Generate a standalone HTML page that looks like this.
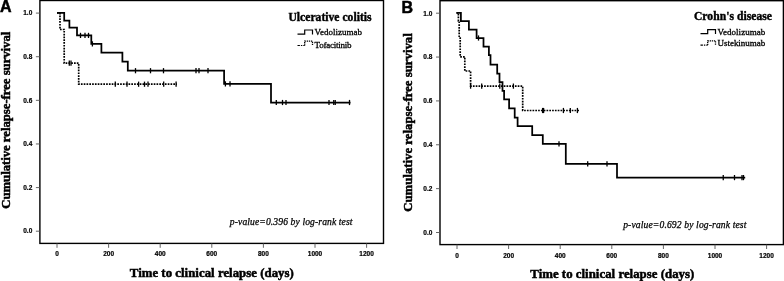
<!DOCTYPE html>
<html><head><meta charset="utf-8"><title>Figure</title>
<style>
html,body{margin:0;padding:0;background:#fff;}
svg{display:block;}
.tk{font-family:"Liberation Sans",sans-serif;font-weight:bold;font-size:6.5px;fill:#000;stroke:#000;stroke-width:0.2px;}
.ax{font-family:"Liberation Serif",serif;font-weight:bold;font-size:12.8px;fill:#000;stroke:#000;stroke-width:0.5px;}
.ti{font-family:"Liberation Serif",serif;font-weight:bold;font-size:11.6px;fill:#000;stroke:#000;stroke-width:0.4px;}
.lg{font-family:"Liberation Serif",serif;font-size:9px;fill:#000;stroke:#000;stroke-width:0.3px;}
.pv{font-family:"Liberation Serif",serif;font-style:italic;font-size:9.6px;fill:#000;stroke:#000;stroke-width:0.25px;}
.lt{font-family:"Liberation Sans",sans-serif;font-weight:bold;font-size:16px;fill:#000;stroke:#000;stroke-width:0.5px;}
</style></head>
<body>
<svg width="784" height="281" viewBox="0 0 784 281">
<rect width="784" height="281" fill="#fff"/>
<rect x="39.9" y="0.5" width="343.6" height="242.9" fill="none" stroke="#000" stroke-width="1.4"/>
<line x1="35.9" y1="231.20" x2="39.9" y2="231.20" stroke="#555" stroke-width="0.9"/>
<text x="32.3" y="233.45" text-anchor="end" class="tk">0.0</text>
<line x1="35.9" y1="187.58" x2="39.9" y2="187.58" stroke="#555" stroke-width="0.9"/>
<text x="32.3" y="189.83" text-anchor="end" class="tk">0.2</text>
<line x1="35.9" y1="143.96" x2="39.9" y2="143.96" stroke="#555" stroke-width="0.9"/>
<text x="32.3" y="146.21" text-anchor="end" class="tk">0.4</text>
<line x1="35.9" y1="100.34" x2="39.9" y2="100.34" stroke="#555" stroke-width="0.9"/>
<text x="32.3" y="102.59" text-anchor="end" class="tk">0.6</text>
<line x1="35.9" y1="56.72" x2="39.9" y2="56.72" stroke="#555" stroke-width="0.9"/>
<text x="32.3" y="58.97" text-anchor="end" class="tk">0.8</text>
<line x1="35.9" y1="13.10" x2="39.9" y2="13.10" stroke="#555" stroke-width="0.9"/>
<text x="32.3" y="15.35" text-anchor="end" class="tk">1.0</text>
<line x1="57.00" y1="243.4" x2="57.00" y2="247.8" stroke="#555" stroke-width="0.9"/>
<text x="57.00" y="255.9" text-anchor="middle" class="tk">0</text>
<line x1="108.60" y1="243.4" x2="108.60" y2="247.8" stroke="#555" stroke-width="0.9"/>
<text x="108.60" y="255.9" text-anchor="middle" class="tk">200</text>
<line x1="160.20" y1="243.4" x2="160.20" y2="247.8" stroke="#555" stroke-width="0.9"/>
<text x="160.20" y="255.9" text-anchor="middle" class="tk">400</text>
<line x1="211.80" y1="243.4" x2="211.80" y2="247.8" stroke="#555" stroke-width="0.9"/>
<text x="211.80" y="255.9" text-anchor="middle" class="tk">600</text>
<line x1="263.40" y1="243.4" x2="263.40" y2="247.8" stroke="#555" stroke-width="0.9"/>
<text x="263.40" y="255.9" text-anchor="middle" class="tk">800</text>
<line x1="315.00" y1="243.4" x2="315.00" y2="247.8" stroke="#555" stroke-width="0.9"/>
<text x="315.00" y="255.9" text-anchor="middle" class="tk">1000</text>
<line x1="366.60" y1="243.4" x2="366.60" y2="247.8" stroke="#555" stroke-width="0.9"/>
<text x="366.60" y="255.9" text-anchor="middle" class="tk">1200</text>
<text x="129.8" y="276.7" class="ax" textLength="164" lengthAdjust="spacing">Time to clinical relapse (days)</text>
<text transform="translate(10.3,208.8) rotate(-90)" class="ax" textLength="177.2" lengthAdjust="spacing">Cumulative relapse-free survival</text>
<text x="0" y="12.3" class="lt">A</text>
<text x="288.4" y="20.5" class="ti" textLength="83.2" lengthAdjust="spacing">Ulcerative colitis</text>
<text x="314.6" y="35.3" class="lg" textLength="47.5" lengthAdjust="spacing">Vedolizumab</text>
<path d="M297.5 34.1 H304.7 V30.0 H312.5 V34.5" fill="none" stroke="#000" stroke-width="1.2"/>
<text x="314.6" y="47.6" class="lg" textLength="36.8" lengthAdjust="spacing">Tofacitinib</text>
<path d="M297.5 45.5 H304.7" fill="none" stroke="#000" stroke-width="1.2" stroke-dasharray="2.4 1 1.4 1 1.4 1"/>
<path d="M304.7 45.5 V41.2 H312.5 V45.5" fill="none" stroke="#000" stroke-width="1.3" stroke-dasharray="1.3 0.8"/>
<text x="229.8" y="224.6" class="pv" textLength="122.7" lengthAdjust="spacing">p-value=0.396 by log-rank test</text>
<path d="M57.00 12.90 L64.20 12.90 L64.20 20.50 L69.40 20.50 L69.40 27.70 L77.00 27.70 L77.00 35.40 L91.30 35.40 L91.30 43.90 L101.40 43.90 L101.40 52.60 L122.40 52.60 L122.40 61.60 L127.80 61.60 L127.80 70.70 L224.10 70.70 L224.10 83.90 L271.00 83.90 L271.00 102.50 L350.50 102.50" fill="none" stroke="#000" stroke-width="1.75" stroke-linejoin="miter" />
<line x1="80.50" y1="32.80" x2="80.50" y2="38.00" stroke="#000" stroke-width="1.3"/>
<line x1="85.00" y1="32.80" x2="85.00" y2="38.00" stroke="#000" stroke-width="1.3"/>
<line x1="88.50" y1="32.80" x2="88.50" y2="38.00" stroke="#000" stroke-width="1.3"/>
<line x1="92.40" y1="41.30" x2="92.40" y2="46.50" stroke="#000" stroke-width="1.3"/>
<line x1="135.50" y1="68.10" x2="135.50" y2="73.30" stroke="#000" stroke-width="1.3"/>
<line x1="150.50" y1="68.10" x2="150.50" y2="73.30" stroke="#000" stroke-width="1.3"/>
<line x1="163.50" y1="68.10" x2="163.50" y2="73.30" stroke="#000" stroke-width="1.3"/>
<line x1="196.00" y1="68.10" x2="196.00" y2="73.30" stroke="#000" stroke-width="1.3"/>
<line x1="199.00" y1="68.10" x2="199.00" y2="73.30" stroke="#000" stroke-width="1.3"/>
<line x1="208.00" y1="68.10" x2="208.00" y2="73.30" stroke="#000" stroke-width="1.3"/>
<line x1="225.40" y1="81.30" x2="225.40" y2="86.50" stroke="#000" stroke-width="1.3"/>
<line x1="230.00" y1="81.30" x2="230.00" y2="86.50" stroke="#000" stroke-width="1.3"/>
<line x1="276.30" y1="99.90" x2="276.30" y2="105.10" stroke="#000" stroke-width="1.3"/>
<line x1="282.50" y1="99.90" x2="282.50" y2="105.10" stroke="#000" stroke-width="1.3"/>
<line x1="286.00" y1="99.90" x2="286.00" y2="105.10" stroke="#000" stroke-width="1.3"/>
<line x1="329.00" y1="99.90" x2="329.00" y2="105.10" stroke="#000" stroke-width="1.3"/>
<line x1="333.75" y1="99.90" x2="333.75" y2="105.10" stroke="#000" stroke-width="1.3"/>
<line x1="335.25" y1="99.90" x2="335.25" y2="105.10" stroke="#000" stroke-width="1.3"/>
<line x1="349.50" y1="99.90" x2="349.50" y2="105.10" stroke="#000" stroke-width="1.3"/>
<path d="M57.00 12.90 L60.00 12.90 L60.00 29.50 L64.20 29.50 L64.20 63.10 L78.70 63.10 L78.70 84.20 L177.00 84.20" fill="none" stroke="#000" stroke-width="1.7" stroke-linejoin="miter" stroke-dasharray="1.7 1.1"/>
<line x1="69.30" y1="60.50" x2="69.30" y2="65.70" stroke="#000" stroke-width="1.3"/>
<line x1="71.00" y1="60.50" x2="71.00" y2="65.70" stroke="#000" stroke-width="1.3"/>
<line x1="115.30" y1="81.60" x2="115.30" y2="86.80" stroke="#000" stroke-width="1.3"/>
<line x1="127.00" y1="81.60" x2="127.00" y2="86.80" stroke="#000" stroke-width="1.3"/>
<line x1="138.60" y1="81.60" x2="138.60" y2="86.80" stroke="#000" stroke-width="1.3"/>
<line x1="144.50" y1="81.60" x2="144.50" y2="86.80" stroke="#000" stroke-width="1.3"/>
<line x1="148.00" y1="81.60" x2="148.00" y2="86.80" stroke="#000" stroke-width="1.3"/>
<line x1="163.70" y1="81.60" x2="163.70" y2="86.80" stroke="#000" stroke-width="1.3"/>
<line x1="176.10" y1="81.60" x2="176.10" y2="86.80" stroke="#000" stroke-width="1.3"/>
<rect x="440.0" y="0.7" width="343.4" height="243.9" fill="none" stroke="#000" stroke-width="1.4"/>
<line x1="436.0" y1="232.50" x2="440.0" y2="232.50" stroke="#555" stroke-width="0.9"/>
<text x="432.4" y="234.90" text-anchor="end" class="tk">0.0</text>
<line x1="436.0" y1="188.64" x2="440.0" y2="188.64" stroke="#555" stroke-width="0.9"/>
<text x="432.4" y="191.04" text-anchor="end" class="tk">0.2</text>
<line x1="436.0" y1="144.78" x2="440.0" y2="144.78" stroke="#555" stroke-width="0.9"/>
<text x="432.4" y="147.18" text-anchor="end" class="tk">0.4</text>
<line x1="436.0" y1="100.92" x2="440.0" y2="100.92" stroke="#555" stroke-width="0.9"/>
<text x="432.4" y="103.32" text-anchor="end" class="tk">0.6</text>
<line x1="436.0" y1="57.06" x2="440.0" y2="57.06" stroke="#555" stroke-width="0.9"/>
<text x="432.4" y="59.46" text-anchor="end" class="tk">0.8</text>
<line x1="436.0" y1="13.20" x2="440.0" y2="13.20" stroke="#555" stroke-width="0.9"/>
<text x="432.4" y="15.60" text-anchor="end" class="tk">1.0</text>
<line x1="457.00" y1="244.6" x2="457.00" y2="249.0" stroke="#555" stroke-width="0.9"/>
<text x="457.00" y="258.4" text-anchor="middle" class="tk">0</text>
<line x1="508.60" y1="244.6" x2="508.60" y2="249.0" stroke="#555" stroke-width="0.9"/>
<text x="508.60" y="258.4" text-anchor="middle" class="tk">200</text>
<line x1="560.20" y1="244.6" x2="560.20" y2="249.0" stroke="#555" stroke-width="0.9"/>
<text x="560.20" y="258.4" text-anchor="middle" class="tk">400</text>
<line x1="611.80" y1="244.6" x2="611.80" y2="249.0" stroke="#555" stroke-width="0.9"/>
<text x="611.80" y="258.4" text-anchor="middle" class="tk">600</text>
<line x1="663.40" y1="244.6" x2="663.40" y2="249.0" stroke="#555" stroke-width="0.9"/>
<text x="663.40" y="258.4" text-anchor="middle" class="tk">800</text>
<line x1="715.00" y1="244.6" x2="715.00" y2="249.0" stroke="#555" stroke-width="0.9"/>
<text x="715.00" y="258.4" text-anchor="middle" class="tk">1000</text>
<line x1="766.60" y1="244.6" x2="766.60" y2="249.0" stroke="#555" stroke-width="0.9"/>
<text x="766.60" y="258.4" text-anchor="middle" class="tk">1200</text>
<text x="530.3" y="278.2" class="ax" textLength="164" lengthAdjust="spacing">Time to clinical relapse (days)</text>
<text transform="translate(412.0,211.8) rotate(-90)" class="ax" textLength="178.6" lengthAdjust="spacing">Cumulative relapse-free survival</text>
<text x="401.6" y="12.6" class="lt">B</text>
<text x="693.9" y="19.9" class="ti" textLength="78.1" lengthAdjust="spacing">Crohn's disease</text>
<text x="717.5" y="34.9" class="lg" textLength="47.7" lengthAdjust="spacing">Vedolizumab</text>
<path d="M700.5 33.7 H707.7 V29.6 H715.5 V34.1" fill="none" stroke="#000" stroke-width="1.2"/>
<text x="717.5" y="46.4" class="lg" textLength="47.7" lengthAdjust="spacing">Ustekinumab</text>
<path d="M700.5 45.1 H707.7" fill="none" stroke="#000" stroke-width="1.2" stroke-dasharray="2.4 1 1.4 1 1.4 1"/>
<path d="M707.7 45.1 V40.800000000000004 H715.5 V45.1" fill="none" stroke="#000" stroke-width="1.3" stroke-dasharray="1.3 0.8"/>
<text x="623.2" y="227.9" class="pv" textLength="123.2" lengthAdjust="spacing">p-value=0.692 by log-rank test</text>
<path d="M456.50 12.90 L460.90 12.90 L460.90 21.00 L468.90 21.00 L468.90 29.60 L476.60 29.60 L476.60 38.00 L483.50 38.00 L483.50 46.60 L488.90 46.60 L488.90 55.20 L490.50 55.20 L490.50 64.50 L497.20 64.50 L497.20 73.50 L499.50 73.50 L499.50 82.00 L502.50 82.00 L502.50 90.80 L504.10 90.80 L504.10 99.40 L509.10 99.40 L509.10 108.40 L514.70 108.40 L514.70 117.60 L517.60 117.60 L517.60 126.10 L532.20 126.10 L532.20 135.00 L542.80 135.00 L542.80 143.80 L565.80 143.80 L565.80 163.80 L617.00 163.80 L617.00 177.60 L745.20 177.60" fill="none" stroke="#000" stroke-width="1.75" stroke-linejoin="miter" />
<line x1="478.50" y1="35.40" x2="478.50" y2="40.60" stroke="#000" stroke-width="1.3"/>
<line x1="559.00" y1="141.20" x2="559.00" y2="146.40" stroke="#000" stroke-width="1.3"/>
<line x1="587.70" y1="161.20" x2="587.70" y2="166.40" stroke="#000" stroke-width="1.3"/>
<line x1="607.00" y1="161.20" x2="607.00" y2="166.40" stroke="#000" stroke-width="1.3"/>
<line x1="723.25" y1="175.00" x2="723.25" y2="180.20" stroke="#000" stroke-width="1.3"/>
<line x1="734.50" y1="175.00" x2="734.50" y2="180.20" stroke="#000" stroke-width="1.3"/>
<line x1="742.00" y1="175.00" x2="742.00" y2="180.20" stroke="#000" stroke-width="1.3"/>
<line x1="743.50" y1="175.00" x2="743.50" y2="180.20" stroke="#000" stroke-width="1.3"/>
<path d="M456.50 12.90 L458.40 12.90 L458.40 21.00 L459.20 21.00 L459.20 38.00 L460.20 38.00 L460.20 56.80 L464.80 56.80 L464.80 71.00 L470.60 71.00 L470.60 86.10 L522.70 86.10 L522.70 110.50 L579.20 110.50" fill="none" stroke="#000" stroke-width="1.7" stroke-linejoin="miter" stroke-dasharray="1.7 1.1"/>
<line x1="470.60" y1="83.50" x2="470.60" y2="88.70" stroke="#000" stroke-width="1.3"/>
<line x1="481.70" y1="83.50" x2="481.70" y2="88.70" stroke="#000" stroke-width="1.3"/>
<line x1="499.80" y1="83.50" x2="499.80" y2="88.70" stroke="#000" stroke-width="1.3"/>
<line x1="513.40" y1="83.50" x2="513.40" y2="88.70" stroke="#000" stroke-width="1.3"/>
<line x1="542.60" y1="107.90" x2="542.60" y2="113.10" stroke="#000" stroke-width="1.3"/>
<line x1="543.60" y1="107.90" x2="543.60" y2="113.10" stroke="#000" stroke-width="1.3"/>
<line x1="563.40" y1="107.90" x2="563.40" y2="113.10" stroke="#000" stroke-width="1.3"/>
<line x1="570.30" y1="107.90" x2="570.30" y2="113.10" stroke="#000" stroke-width="1.3"/>
<line x1="577.40" y1="107.90" x2="577.40" y2="113.10" stroke="#000" stroke-width="1.3"/>
</svg>
</body></html>
